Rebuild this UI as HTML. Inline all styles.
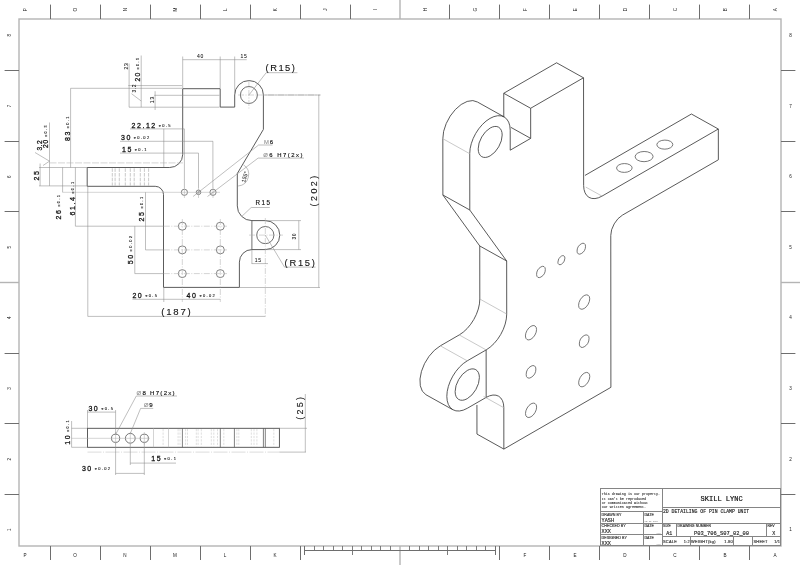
<!DOCTYPE html>
<html><head><meta charset="utf-8"><style>
html,body{margin:0;padding:0;background:#fff;}
svg{display:block;will-change:transform;}
</style></head><body>
<svg width="800" height="565" viewBox="0 0 800 565">
<rect width="800" height="565" fill="#fff"/>
<rect x="19" y="19" width="762" height="527" fill="none" stroke="#b4b4b4" stroke-width="1.4"/>
<line x1="50.5" y1="4.6" x2="50.5" y2="19.0" stroke="#6e6e6e" stroke-width="1.0" />
<line x1="50.5" y1="546.0" x2="50.5" y2="560.0" stroke="#6e6e6e" stroke-width="1.0" />
<line x1="100.5" y1="4.6" x2="100.5" y2="19.0" stroke="#6e6e6e" stroke-width="1.0" />
<line x1="100.5" y1="546.0" x2="100.5" y2="560.0" stroke="#6e6e6e" stroke-width="1.0" />
<line x1="150.5" y1="4.6" x2="150.5" y2="19.0" stroke="#6e6e6e" stroke-width="1.0" />
<line x1="150.5" y1="546.0" x2="150.5" y2="560.0" stroke="#6e6e6e" stroke-width="1.0" />
<line x1="200.5" y1="4.6" x2="200.5" y2="19.0" stroke="#6e6e6e" stroke-width="1.0" />
<line x1="200.5" y1="546.0" x2="200.5" y2="560.0" stroke="#6e6e6e" stroke-width="1.0" />
<line x1="250.5" y1="4.6" x2="250.5" y2="19.0" stroke="#6e6e6e" stroke-width="1.0" />
<line x1="250.5" y1="546.0" x2="250.5" y2="560.0" stroke="#6e6e6e" stroke-width="1.0" />
<line x1="300.5" y1="4.6" x2="300.5" y2="19.0" stroke="#6e6e6e" stroke-width="1.0" />
<line x1="300.5" y1="546.0" x2="300.5" y2="560.0" stroke="#6e6e6e" stroke-width="1.0" />
<line x1="350.5" y1="4.6" x2="350.5" y2="19.0" stroke="#6e6e6e" stroke-width="1.0" />
<line x1="400.0" y1="0.0" x2="400.0" y2="19.0" stroke="#b4b4b4" stroke-width="1.4" />
<line x1="400.0" y1="546.0" x2="400.0" y2="565.0" stroke="#b4b4b4" stroke-width="1.4" />
<line x1="449.5" y1="4.6" x2="449.5" y2="19.0" stroke="#6e6e6e" stroke-width="1.0" />
<line x1="499.5" y1="4.6" x2="499.5" y2="19.0" stroke="#6e6e6e" stroke-width="1.0" />
<line x1="499.5" y1="546.0" x2="499.5" y2="560.0" stroke="#6e6e6e" stroke-width="1.0" />
<line x1="549.5" y1="4.6" x2="549.5" y2="19.0" stroke="#6e6e6e" stroke-width="1.0" />
<line x1="549.5" y1="546.0" x2="549.5" y2="560.0" stroke="#6e6e6e" stroke-width="1.0" />
<line x1="599.5" y1="4.6" x2="599.5" y2="19.0" stroke="#6e6e6e" stroke-width="1.0" />
<line x1="599.5" y1="546.0" x2="599.5" y2="560.0" stroke="#6e6e6e" stroke-width="1.0" />
<line x1="649.5" y1="4.6" x2="649.5" y2="19.0" stroke="#6e6e6e" stroke-width="1.0" />
<line x1="649.5" y1="546.0" x2="649.5" y2="560.0" stroke="#6e6e6e" stroke-width="1.0" />
<line x1="699.5" y1="4.6" x2="699.5" y2="19.0" stroke="#6e6e6e" stroke-width="1.0" />
<line x1="699.5" y1="546.0" x2="699.5" y2="560.0" stroke="#6e6e6e" stroke-width="1.0" />
<line x1="749.5" y1="4.6" x2="749.5" y2="19.0" stroke="#6e6e6e" stroke-width="1.0" />
<line x1="749.5" y1="546.0" x2="749.5" y2="560.0" stroke="#6e6e6e" stroke-width="1.0" />
<line x1="4.6" y1="70.5" x2="19.0" y2="70.5" stroke="#6e6e6e" stroke-width="1.0" />
<line x1="781.0" y1="70.5" x2="795.4" y2="70.5" stroke="#6e6e6e" stroke-width="1.0" />
<line x1="4.6" y1="141.5" x2="19.0" y2="141.5" stroke="#6e6e6e" stroke-width="1.0" />
<line x1="781.0" y1="141.5" x2="795.4" y2="141.5" stroke="#6e6e6e" stroke-width="1.0" />
<line x1="4.6" y1="211.5" x2="19.0" y2="211.5" stroke="#6e6e6e" stroke-width="1.0" />
<line x1="781.0" y1="211.5" x2="795.4" y2="211.5" stroke="#6e6e6e" stroke-width="1.0" />
<line x1="0.0" y1="282.5" x2="19.0" y2="282.5" stroke="#b4b4b4" stroke-width="1.4" />
<line x1="781.0" y1="282.5" x2="800.0" y2="282.5" stroke="#b4b4b4" stroke-width="1.4" />
<line x1="4.6" y1="353.5" x2="19.0" y2="353.5" stroke="#6e6e6e" stroke-width="1.0" />
<line x1="781.0" y1="353.5" x2="795.4" y2="353.5" stroke="#6e6e6e" stroke-width="1.0" />
<line x1="4.6" y1="423.5" x2="19.0" y2="423.5" stroke="#6e6e6e" stroke-width="1.0" />
<line x1="781.0" y1="423.5" x2="795.4" y2="423.5" stroke="#6e6e6e" stroke-width="1.0" />
<line x1="4.6" y1="494.5" x2="19.0" y2="494.5" stroke="#6e6e6e" stroke-width="1.0" />
<line x1="781.0" y1="494.5" x2="795.4" y2="494.5" stroke="#6e6e6e" stroke-width="1.0" />
<text x="26.6" y="9.6" font-family="Liberation Sans" font-size="4.6" fill="#222" text-anchor="middle" font-weight="normal" letter-spacing="0" transform="rotate(-90 26.6 9.6)" >P</text>
<text x="25.0" y="557.4" font-family="Liberation Sans" font-size="4.6" fill="#222" text-anchor="middle" font-weight="normal" letter-spacing="0" >P</text>
<text x="76.6" y="9.6" font-family="Liberation Sans" font-size="4.6" fill="#222" text-anchor="middle" font-weight="normal" letter-spacing="0" transform="rotate(-90 76.6 9.6)" >O</text>
<text x="75.0" y="557.4" font-family="Liberation Sans" font-size="4.6" fill="#222" text-anchor="middle" font-weight="normal" letter-spacing="0" >O</text>
<text x="126.6" y="9.6" font-family="Liberation Sans" font-size="4.6" fill="#222" text-anchor="middle" font-weight="normal" letter-spacing="0" transform="rotate(-90 126.6 9.6)" >N</text>
<text x="125.0" y="557.4" font-family="Liberation Sans" font-size="4.6" fill="#222" text-anchor="middle" font-weight="normal" letter-spacing="0" >N</text>
<text x="176.6" y="9.6" font-family="Liberation Sans" font-size="4.6" fill="#222" text-anchor="middle" font-weight="normal" letter-spacing="0" transform="rotate(-90 176.6 9.6)" >M</text>
<text x="175.0" y="557.4" font-family="Liberation Sans" font-size="4.6" fill="#222" text-anchor="middle" font-weight="normal" letter-spacing="0" >M</text>
<text x="226.6" y="9.6" font-family="Liberation Sans" font-size="4.6" fill="#222" text-anchor="middle" font-weight="normal" letter-spacing="0" transform="rotate(-90 226.6 9.6)" >L</text>
<text x="225.0" y="557.4" font-family="Liberation Sans" font-size="4.6" fill="#222" text-anchor="middle" font-weight="normal" letter-spacing="0" >L</text>
<text x="276.6" y="9.6" font-family="Liberation Sans" font-size="4.6" fill="#222" text-anchor="middle" font-weight="normal" letter-spacing="0" transform="rotate(-90 276.6 9.6)" >K</text>
<text x="275.0" y="557.4" font-family="Liberation Sans" font-size="4.6" fill="#222" text-anchor="middle" font-weight="normal" letter-spacing="0" >K</text>
<text x="326.6" y="9.6" font-family="Liberation Sans" font-size="4.6" fill="#222" text-anchor="middle" font-weight="normal" letter-spacing="0" transform="rotate(-90 326.6 9.6)" >J</text>
<text x="376.6" y="9.6" font-family="Liberation Sans" font-size="4.6" fill="#222" text-anchor="middle" font-weight="normal" letter-spacing="0" transform="rotate(-90 376.6 9.6)" >I</text>
<text x="426.6" y="9.6" font-family="Liberation Sans" font-size="4.6" fill="#222" text-anchor="middle" font-weight="normal" letter-spacing="0" transform="rotate(-90 426.6 9.6)" >H</text>
<text x="476.6" y="9.6" font-family="Liberation Sans" font-size="4.6" fill="#222" text-anchor="middle" font-weight="normal" letter-spacing="0" transform="rotate(-90 476.6 9.6)" >G</text>
<text x="526.6" y="9.6" font-family="Liberation Sans" font-size="4.6" fill="#222" text-anchor="middle" font-weight="normal" letter-spacing="0" transform="rotate(-90 526.6 9.6)" >F</text>
<text x="525.0" y="557.4" font-family="Liberation Sans" font-size="4.6" fill="#222" text-anchor="middle" font-weight="normal" letter-spacing="0" >F</text>
<text x="576.6" y="9.6" font-family="Liberation Sans" font-size="4.6" fill="#222" text-anchor="middle" font-weight="normal" letter-spacing="0" transform="rotate(-90 576.6 9.6)" >E</text>
<text x="575.0" y="557.4" font-family="Liberation Sans" font-size="4.6" fill="#222" text-anchor="middle" font-weight="normal" letter-spacing="0" >E</text>
<text x="626.6" y="9.6" font-family="Liberation Sans" font-size="4.6" fill="#222" text-anchor="middle" font-weight="normal" letter-spacing="0" transform="rotate(-90 626.6 9.6)" >D</text>
<text x="625.0" y="557.4" font-family="Liberation Sans" font-size="4.6" fill="#222" text-anchor="middle" font-weight="normal" letter-spacing="0" >D</text>
<text x="676.6" y="9.6" font-family="Liberation Sans" font-size="4.6" fill="#222" text-anchor="middle" font-weight="normal" letter-spacing="0" transform="rotate(-90 676.6 9.6)" >C</text>
<text x="675.0" y="557.4" font-family="Liberation Sans" font-size="4.6" fill="#222" text-anchor="middle" font-weight="normal" letter-spacing="0" >C</text>
<text x="726.6" y="9.6" font-family="Liberation Sans" font-size="4.6" fill="#222" text-anchor="middle" font-weight="normal" letter-spacing="0" transform="rotate(-90 726.6 9.6)" >B</text>
<text x="725.0" y="557.4" font-family="Liberation Sans" font-size="4.6" fill="#222" text-anchor="middle" font-weight="normal" letter-spacing="0" >B</text>
<text x="776.6" y="9.6" font-family="Liberation Sans" font-size="4.6" fill="#222" text-anchor="middle" font-weight="normal" letter-spacing="0" transform="rotate(-90 776.6 9.6)" >A</text>
<text x="775.0" y="557.4" font-family="Liberation Sans" font-size="4.6" fill="#222" text-anchor="middle" font-weight="normal" letter-spacing="0" >A</text>
<text x="11.2" y="35.3" font-family="Liberation Sans" font-size="4.6" fill="#222" text-anchor="middle" font-weight="normal" letter-spacing="0" transform="rotate(-90 11.2 35.3)" >8</text>
<text x="790.6" y="36.9" font-family="Liberation Sans" font-size="4.6" fill="#222" text-anchor="middle" font-weight="normal" letter-spacing="0" >8</text>
<text x="11.2" y="105.9" font-family="Liberation Sans" font-size="4.6" fill="#222" text-anchor="middle" font-weight="normal" letter-spacing="0" transform="rotate(-90 11.2 105.9)" >7</text>
<text x="790.6" y="107.5" font-family="Liberation Sans" font-size="4.6" fill="#222" text-anchor="middle" font-weight="normal" letter-spacing="0" >7</text>
<text x="11.2" y="176.6" font-family="Liberation Sans" font-size="4.6" fill="#222" text-anchor="middle" font-weight="normal" letter-spacing="0" transform="rotate(-90 11.2 176.6)" >6</text>
<text x="790.6" y="178.2" font-family="Liberation Sans" font-size="4.6" fill="#222" text-anchor="middle" font-weight="normal" letter-spacing="0" >6</text>
<text x="11.2" y="247.2" font-family="Liberation Sans" font-size="4.6" fill="#222" text-anchor="middle" font-weight="normal" letter-spacing="0" transform="rotate(-90 11.2 247.2)" >5</text>
<text x="790.6" y="248.8" font-family="Liberation Sans" font-size="4.6" fill="#222" text-anchor="middle" font-weight="normal" letter-spacing="0" >5</text>
<text x="11.2" y="317.8" font-family="Liberation Sans" font-size="4.6" fill="#222" text-anchor="middle" font-weight="normal" letter-spacing="0" transform="rotate(-90 11.2 317.8)" >4</text>
<text x="790.6" y="319.4" font-family="Liberation Sans" font-size="4.6" fill="#222" text-anchor="middle" font-weight="normal" letter-spacing="0" >4</text>
<text x="11.2" y="388.4" font-family="Liberation Sans" font-size="4.6" fill="#222" text-anchor="middle" font-weight="normal" letter-spacing="0" transform="rotate(-90 11.2 388.4)" >3</text>
<text x="790.6" y="390.0" font-family="Liberation Sans" font-size="4.6" fill="#222" text-anchor="middle" font-weight="normal" letter-spacing="0" >3</text>
<text x="11.2" y="459.1" font-family="Liberation Sans" font-size="4.6" fill="#222" text-anchor="middle" font-weight="normal" letter-spacing="0" transform="rotate(-90 11.2 459.1)" >2</text>
<text x="790.6" y="460.7" font-family="Liberation Sans" font-size="4.6" fill="#222" text-anchor="middle" font-weight="normal" letter-spacing="0" >2</text>
<text x="11.2" y="529.7" font-family="Liberation Sans" font-size="4.6" fill="#222" text-anchor="middle" font-weight="normal" letter-spacing="0" transform="rotate(-90 11.2 529.7)" >1</text>
<text x="790.6" y="531.3" font-family="Liberation Sans" font-size="4.6" fill="#222" text-anchor="middle" font-weight="normal" letter-spacing="0" >1</text>
<line x1="304.5" y1="546.0" x2="304.5" y2="555.0" stroke="#6e6e6e" stroke-width="1.0" />
<line x1="495.5" y1="546.0" x2="495.5" y2="555.0" stroke="#6e6e6e" stroke-width="1.0" />
<line x1="304.5" y1="550.5" x2="495.5" y2="550.5" stroke="#6e6e6e" stroke-width="1.0" />
<line x1="314.5" y1="546.0" x2="314.5" y2="550.5" stroke="#6e6e6e" stroke-width="0.9" />
<line x1="323.5" y1="546.0" x2="323.5" y2="550.5" stroke="#6e6e6e" stroke-width="0.9" />
<line x1="333.5" y1="546.0" x2="333.5" y2="550.5" stroke="#6e6e6e" stroke-width="0.9" />
<line x1="342.5" y1="546.0" x2="342.5" y2="550.5" stroke="#6e6e6e" stroke-width="0.9" />
<line x1="352.5" y1="546.0" x2="352.5" y2="555.0" stroke="#6e6e6e" stroke-width="0.9" />
<line x1="361.5" y1="546.0" x2="361.5" y2="550.5" stroke="#6e6e6e" stroke-width="0.9" />
<line x1="371.5" y1="546.0" x2="371.5" y2="550.5" stroke="#6e6e6e" stroke-width="0.9" />
<line x1="380.5" y1="546.0" x2="380.5" y2="550.5" stroke="#6e6e6e" stroke-width="0.9" />
<line x1="390.5" y1="546.0" x2="390.5" y2="550.5" stroke="#6e6e6e" stroke-width="0.9" />
<line x1="409.5" y1="546.0" x2="409.5" y2="550.5" stroke="#6e6e6e" stroke-width="0.9" />
<line x1="419.5" y1="546.0" x2="419.5" y2="550.5" stroke="#6e6e6e" stroke-width="0.9" />
<line x1="428.5" y1="546.0" x2="428.5" y2="550.5" stroke="#6e6e6e" stroke-width="0.9" />
<line x1="438.5" y1="546.0" x2="438.5" y2="550.5" stroke="#6e6e6e" stroke-width="0.9" />
<line x1="447.5" y1="546.0" x2="447.5" y2="555.0" stroke="#6e6e6e" stroke-width="0.9" />
<line x1="457.5" y1="546.0" x2="457.5" y2="550.5" stroke="#6e6e6e" stroke-width="0.9" />
<line x1="466.5" y1="546.0" x2="466.5" y2="550.5" stroke="#6e6e6e" stroke-width="0.9" />
<line x1="476.5" y1="546.0" x2="476.5" y2="550.5" stroke="#6e6e6e" stroke-width="0.9" />
<line x1="485.5" y1="546.0" x2="485.5" y2="550.5" stroke="#6e6e6e" stroke-width="0.9" />
<rect x="600.5" y="488.5" width="180.0" height="57.0" fill="none" stroke="#858585" stroke-width="1.0"/>
<line x1="662.5" y1="488.5" x2="662.5" y2="545.5" stroke="#858585" stroke-width="1.0" />
<line x1="600.5" y1="511.5" x2="662.5" y2="511.5" stroke="#858585" stroke-width="1.0" />
<line x1="600.5" y1="523.5" x2="662.5" y2="523.5" stroke="#858585" stroke-width="1.0" />
<line x1="600.5" y1="534.5" x2="662.5" y2="534.5" stroke="#858585" stroke-width="1.0" />
<line x1="643.5" y1="511.5" x2="643.5" y2="545.5" stroke="#858585" stroke-width="1.0" />
<line x1="662.5" y1="507.5" x2="780.5" y2="507.5" stroke="#858585" stroke-width="1.0" />
<line x1="662.5" y1="523.5" x2="780.5" y2="523.5" stroke="#858585" stroke-width="1.0" />
<line x1="662.5" y1="536.5" x2="780.5" y2="536.5" stroke="#858585" stroke-width="1.0" />
<line x1="676.5" y1="523.5" x2="676.5" y2="536.5" stroke="#858585" stroke-width="1.0" />
<line x1="766.5" y1="523.5" x2="766.5" y2="536.5" stroke="#858585" stroke-width="1.0" />
<line x1="690.5" y1="536.5" x2="690.5" y2="545.5" stroke="#858585" stroke-width="1.0" />
<line x1="733.5" y1="536.5" x2="733.5" y2="545.5" stroke="#858585" stroke-width="1.0" />
<line x1="752.5" y1="536.5" x2="752.5" y2="545.5" stroke="#858585" stroke-width="1.0" />
<text x="601.8" y="495.4" font-family="Liberation Mono" font-size="3.35" fill="#333" text-anchor="start" font-weight="normal" letter-spacing="0" stroke="#333" stroke-width="0.1">This drawing is our property.</text>
<text x="601.8" y="499.5" font-family="Liberation Mono" font-size="3.35" fill="#333" text-anchor="start" font-weight="normal" letter-spacing="0" stroke="#333" stroke-width="0.1">It can't be reproduced</text>
<text x="601.8" y="503.6" font-family="Liberation Mono" font-size="3.35" fill="#333" text-anchor="start" font-weight="normal" letter-spacing="0" stroke="#333" stroke-width="0.1">or communicated without</text>
<text x="601.8" y="507.8" font-family="Liberation Mono" font-size="3.35" fill="#333" text-anchor="start" font-weight="normal" letter-spacing="0" stroke="#333" stroke-width="0.1">our written agreement.</text>
<text x="601.6" y="515.7" font-family="Liberation Sans" font-size="3.65" fill="#333" text-anchor="start" font-weight="normal" letter-spacing="0.05" stroke="#333" stroke-width="0.15">DRAWN BY</text>
<text x="601.6" y="521.9" font-family="Liberation Mono" font-size="5.2" fill="#222" text-anchor="start" font-weight="normal" letter-spacing="0" stroke="#333" stroke-width="0.15">YASH</text>
<text x="644.4" y="515.7" font-family="Liberation Sans" font-size="3.65" fill="#333" text-anchor="start" font-weight="normal" letter-spacing="0.05" stroke="#333" stroke-width="0.15">DATE</text>
<text x="644.6" y="522.3" font-family="Liberation Mono" font-size="2.3" fill="#555" text-anchor="start" font-weight="normal" letter-spacing="0" >28-06-2021</text>
<text x="601.6" y="527.0" font-family="Liberation Sans" font-size="3.65" fill="#333" text-anchor="start" font-weight="normal" letter-spacing="0.05" stroke="#333" stroke-width="0.15">CHECKED BY</text>
<text x="601.6" y="533.0" font-family="Liberation Mono" font-size="5.2" fill="#222" text-anchor="start" font-weight="normal" letter-spacing="0" stroke="#333" stroke-width="0.15">XXX</text>
<text x="644.4" y="527.0" font-family="Liberation Sans" font-size="3.65" fill="#333" text-anchor="start" font-weight="normal" letter-spacing="0.05" stroke="#333" stroke-width="0.15">DATE</text>
<text x="656.5" y="533.8" font-family="Liberation Mono" font-size="2.3" fill="#555" text-anchor="start" font-weight="normal" letter-spacing="0" >XXX</text>
<text x="601.6" y="538.7" font-family="Liberation Sans" font-size="3.65" fill="#333" text-anchor="start" font-weight="normal" letter-spacing="0.05" stroke="#333" stroke-width="0.15">DESIGNED BY</text>
<text x="601.6" y="544.6" font-family="Liberation Mono" font-size="5.2" fill="#222" text-anchor="start" font-weight="normal" letter-spacing="0" stroke="#333" stroke-width="0.15">XXX</text>
<text x="644.4" y="538.7" font-family="Liberation Sans" font-size="3.65" fill="#333" text-anchor="start" font-weight="normal" letter-spacing="0.05" stroke="#333" stroke-width="0.15">DATE</text>
<text x="656.5" y="545.0" font-family="Liberation Mono" font-size="2.3" fill="#555" text-anchor="start" font-weight="normal" letter-spacing="0" >XXX</text>
<text x="721.6" y="500.6" font-family="Liberation Mono" font-size="7.0" fill="#111" text-anchor="middle" font-weight="normal" letter-spacing="0" stroke="#111" stroke-width="0.2">SKILL LYNC</text>
<text x="662.9" y="512.8" font-family="Liberation Mono" font-size="4.8" fill="#222" text-anchor="start" font-weight="normal" letter-spacing="0" stroke="#333" stroke-width="0.15">2D DETAILING OF PIN CLAMP UNIT</text>
<text x="663.0" y="527.0" font-family="Liberation Sans" font-size="3.5" fill="#333" text-anchor="start" font-weight="normal" letter-spacing="0.05" stroke="#333" stroke-width="0.15">SIZE</text>
<text x="669.3" y="534.6" font-family="Liberation Mono" font-size="5.0" fill="#222" text-anchor="middle" font-weight="normal" letter-spacing="0" stroke="#333" stroke-width="0.15">A1</text>
<text x="677.5" y="527.0" font-family="Liberation Sans" font-size="3.5" fill="#333" text-anchor="start" font-weight="normal" letter-spacing="0.05" stroke="#333" stroke-width="0.15">DRAWING NUMBER</text>
<text x="721.6" y="534.6" font-family="Liberation Mono" font-size="5.4" fill="#222" text-anchor="middle" font-weight="normal" letter-spacing="0" stroke="#333" stroke-width="0.15">P03_706_S07_02_00</text>
<text x="767.4" y="527.0" font-family="Liberation Sans" font-size="3.5" fill="#333" text-anchor="start" font-weight="normal" letter-spacing="0.05" stroke="#333" stroke-width="0.15">REV</text>
<text x="773.7" y="534.6" font-family="Liberation Mono" font-size="5.0" fill="#222" text-anchor="middle" font-weight="normal" letter-spacing="0" stroke="#333" stroke-width="0.15">X</text>
<text x="663.0" y="542.8" font-family="Liberation Sans" font-size="3.9" fill="#333" text-anchor="start" font-weight="normal" letter-spacing="0.25" stroke="#333" stroke-width="0.15">SCALE</text>
<text x="690.0" y="542.8" font-family="Liberation Sans" font-size="3.9" fill="#333" text-anchor="end" font-weight="normal" letter-spacing="0.25" stroke="#333" stroke-width="0.15">1:2</text>
<text x="691.0" y="542.8" font-family="Liberation Sans" font-size="3.9" fill="#333" text-anchor="start" font-weight="normal" letter-spacing="0.25" stroke="#333" stroke-width="0.15">WEIGHT(kg)</text>
<text x="732.8" y="542.8" font-family="Liberation Sans" font-size="3.9" fill="#333" text-anchor="end" font-weight="normal" letter-spacing="0.25" stroke="#333" stroke-width="0.15">1.80</text>
<text x="753.5" y="542.8" font-family="Liberation Sans" font-size="3.9" fill="#333" text-anchor="start" font-weight="normal" letter-spacing="0.25" stroke="#333" stroke-width="0.15">SHEET</text>
<text x="780.3" y="542.8" font-family="Liberation Sans" font-size="3.9" fill="#333" text-anchor="end" font-weight="normal" letter-spacing="0.25" stroke="#333" stroke-width="0.15">1/1</text>
<path d="M182.7,88.7 L220.2,88.7 L220.2,107.1 L234.7,107.1 L234.7,94.9 A14.35,14.35 0 0 1 263.4,94.9 L263.4,129.4 L237.3,173.5 L237.3,205.9 A14.6,14.6 0 0 0 251.9,220.6 L265.3,220.6 A14.5,14.5 0 0 1 265.3,249.6 L251.9,249.6 A12.5,12.5 0 0 0 239.4,262.1 L239.4,287.4 L163.5,287.4 L163.5,194.6 A8.3,8.3 0 0 0 155.2,186.3 L87.2,186.3 L87.2,167.5 L169.7,167.5 A13,13 0 0 0 182.7,154.5 Z" fill="none" stroke="#4a4a4a" stroke-width="0.9" />
<circle cx="248.9" cy="95.0" r="8.5" fill="none" stroke="#4a4a4a" stroke-width="0.8"/>
<circle cx="265.3" cy="235.1" r="8.6" fill="none" stroke="#4a4a4a" stroke-width="0.8"/>
<line x1="251.9" y1="220.6" x2="251.9" y2="249.6" stroke="#4a4a4a" stroke-width="0.8" />
<circle cx="184.4" cy="192.3" r="3.1" fill="none" stroke="#666" stroke-width="0.8"/>
<circle cx="198.5" cy="192.3" r="2.3" fill="none" stroke="#666" stroke-width="0.8"/>
<circle cx="198.5" cy="192.3" r="0.9" fill="none" stroke="#888" stroke-width="0.5"/>
<circle cx="213.0" cy="192.3" r="3.1" fill="none" stroke="#666" stroke-width="0.8"/>
<circle cx="182.3" cy="226.2" r="4.0" fill="none" stroke="#666" stroke-width="0.8"/>
<circle cx="182.3" cy="249.9" r="4.0" fill="none" stroke="#666" stroke-width="0.8"/>
<circle cx="182.3" cy="273.6" r="4.0" fill="none" stroke="#666" stroke-width="0.8"/>
<circle cx="220.3" cy="226.2" r="4.0" fill="none" stroke="#666" stroke-width="0.8"/>
<circle cx="220.3" cy="249.9" r="4.0" fill="none" stroke="#666" stroke-width="0.8"/>
<circle cx="220.3" cy="273.6" r="4.0" fill="none" stroke="#666" stroke-width="0.8"/>
<line x1="112.3" y1="168.3" x2="112.3" y2="185.6" stroke="#9c9c9c" stroke-width="0.55" stroke-dasharray="3.6 1.1"/>
<line x1="115.1" y1="168.3" x2="115.1" y2="185.6" stroke="#9c9c9c" stroke-width="0.55" stroke-dasharray="3.6 1.1"/>
<line x1="119.3" y1="168.3" x2="119.3" y2="185.6" stroke="#9c9c9c" stroke-width="0.55" stroke-dasharray="3.6 1.1"/>
<line x1="125.3" y1="168.3" x2="125.3" y2="185.6" stroke="#9c9c9c" stroke-width="0.55" stroke-dasharray="3.6 1.1"/>
<line x1="130.3" y1="168.3" x2="130.3" y2="185.6" stroke="#9c9c9c" stroke-width="0.55" stroke-dasharray="3.6 1.1"/>
<line x1="134.2" y1="168.3" x2="134.2" y2="185.6" stroke="#9c9c9c" stroke-width="0.55" stroke-dasharray="3.6 1.1"/>
<line x1="140.3" y1="168.3" x2="140.3" y2="185.6" stroke="#9c9c9c" stroke-width="0.55" stroke-dasharray="3.6 1.1"/>
<line x1="144.4" y1="168.3" x2="144.4" y2="185.6" stroke="#9c9c9c" stroke-width="0.55" stroke-dasharray="3.6 1.1"/>
<line x1="148.6" y1="168.3" x2="148.6" y2="185.6" stroke="#9c9c9c" stroke-width="0.55" stroke-dasharray="3.6 1.1"/>
<line x1="238.0" y1="95.0" x2="321.0" y2="95.0" stroke="#a8a8a8" stroke-width="0.5" stroke-dasharray="6 1.5 1 1.5"/>
<line x1="248.9" y1="80.0" x2="248.9" y2="110.0" stroke="#a8a8a8" stroke-width="0.5" stroke-dasharray="6 1.5 1 1.5"/>
<line x1="249.0" y1="235.1" x2="283.0" y2="235.1" stroke="#a8a8a8" stroke-width="0.5" stroke-dasharray="6 1.5 1 1.5"/>
<line x1="265.3" y1="218.0" x2="265.3" y2="316.5" stroke="#a8a8a8" stroke-width="0.5" stroke-dasharray="6 1.5 1 1.5"/>
<line x1="62.6" y1="192.3" x2="220.0" y2="192.3" stroke="#a8a8a8" stroke-width="0.5" />
<line x1="184.4" y1="187.0" x2="184.4" y2="198.0" stroke="#a8a8a8" stroke-width="0.5" />
<line x1="198.5" y1="187.0" x2="198.5" y2="198.0" stroke="#a8a8a8" stroke-width="0.5" />
<line x1="213.0" y1="187.0" x2="213.0" y2="198.0" stroke="#a8a8a8" stroke-width="0.5" />
<line x1="163.8" y1="226.2" x2="227.0" y2="226.2" stroke="#a8a8a8" stroke-width="0.5" stroke-dasharray="6 1.5 1 1.5"/>
<line x1="163.8" y1="249.9" x2="227.0" y2="249.9" stroke="#a8a8a8" stroke-width="0.5" stroke-dasharray="6 1.5 1 1.5"/>
<line x1="163.8" y1="273.6" x2="227.0" y2="273.6" stroke="#a8a8a8" stroke-width="0.5" stroke-dasharray="6 1.5 1 1.5"/>
<line x1="75.4" y1="226.2" x2="163.8" y2="226.2" stroke="#8a8a8a" stroke-width="0.55" />
<line x1="145.5" y1="249.9" x2="163.8" y2="249.9" stroke="#8a8a8a" stroke-width="0.55" />
<line x1="134.8" y1="273.6" x2="163.8" y2="273.6" stroke="#8a8a8a" stroke-width="0.55" />
<line x1="182.3" y1="219.0" x2="182.3" y2="302.0" stroke="#a8a8a8" stroke-width="0.5" stroke-dasharray="6 1.5 1 1.5"/>
<line x1="220.3" y1="219.0" x2="220.3" y2="302.0" stroke="#a8a8a8" stroke-width="0.5" stroke-dasharray="6 1.5 1 1.5"/>
<line x1="182.7" y1="59.7" x2="246.7" y2="59.7" stroke="#8a8a8a" stroke-width="0.55" />
<line x1="182.7" y1="56.5" x2="182.7" y2="88.0" stroke="#8a8a8a" stroke-width="0.55" />
<line x1="220.2" y1="56.5" x2="220.2" y2="88.0" stroke="#8a8a8a" stroke-width="0.55" />
<line x1="234.7" y1="56.5" x2="234.7" y2="93.0" stroke="#8a8a8a" stroke-width="0.55" />
<line x1="70.6" y1="88.3" x2="182.0" y2="88.3" stroke="#8a8a8a" stroke-width="0.55" />
<line x1="128.2" y1="85.6" x2="182.0" y2="85.6" stroke="#8a8a8a" stroke-width="0.55" />
<line x1="154.2" y1="95.3" x2="219.5" y2="95.3" stroke="#8a8a8a" stroke-width="0.55" />
<line x1="129.0" y1="107.2" x2="219.5" y2="107.2" stroke="#8a8a8a" stroke-width="0.55" />
<line x1="129.1" y1="63.5" x2="129.1" y2="107.2" stroke="#8a8a8a" stroke-width="0.55" />
<line x1="141.2" y1="55.5" x2="141.2" y2="107.2" stroke="#8a8a8a" stroke-width="0.55" />
<line x1="155.1" y1="91.2" x2="155.1" y2="110.0" stroke="#8a8a8a" stroke-width="0.55" />
<line x1="131.5" y1="93.7" x2="141.2" y2="101.0" stroke="#8a8a8a" stroke-width="0.55" />
<line x1="70.6" y1="88.3" x2="70.6" y2="167.5" stroke="#8a8a8a" stroke-width="0.55" />
<line x1="43.0" y1="165.5" x2="49.5" y2="161.2" stroke="#8a8a8a" stroke-width="0.55" />
<line x1="35.0" y1="152.5" x2="49.5" y2="161.2" stroke="#8a8a8a" stroke-width="0.55" />
<line x1="49.5" y1="122.5" x2="49.5" y2="185.9" stroke="#8a8a8a" stroke-width="0.55" />
<line x1="40.1" y1="163.5" x2="40.1" y2="185.9" stroke="#8a8a8a" stroke-width="0.55" />
<line x1="39.0" y1="167.5" x2="87.0" y2="167.5" stroke="#8a8a8a" stroke-width="0.55" />
<line x1="39.0" y1="185.9" x2="87.0" y2="185.9" stroke="#8a8a8a" stroke-width="0.55" />
<line x1="62.6" y1="167.5" x2="62.6" y2="192.3" stroke="#8a8a8a" stroke-width="0.55" />
<line x1="75.4" y1="167.5" x2="75.4" y2="226.2" stroke="#8a8a8a" stroke-width="0.55" />
<line x1="87.8" y1="186.0" x2="87.8" y2="316.4" stroke="#8a8a8a" stroke-width="0.55" />
<line x1="87.8" y1="316.4" x2="265.3" y2="316.4" stroke="#8a8a8a" stroke-width="0.55" />
<line x1="145.5" y1="192.3" x2="145.5" y2="249.9" stroke="#8a8a8a" stroke-width="0.55" />
<line x1="134.8" y1="226.2" x2="134.8" y2="273.6" stroke="#8a8a8a" stroke-width="0.55" />
<line x1="130.0" y1="128.9" x2="184.4" y2="128.9" stroke="#8a8a8a" stroke-width="0.55" />
<line x1="120.0" y1="141.3" x2="213.0" y2="141.3" stroke="#8a8a8a" stroke-width="0.55" />
<line x1="120.0" y1="153.1" x2="198.5" y2="153.1" stroke="#8a8a8a" stroke-width="0.55" />
<line x1="184.4" y1="128.9" x2="184.4" y2="187.5" stroke="#8a8a8a" stroke-width="0.55" />
<line x1="198.5" y1="153.1" x2="198.5" y2="187.5" stroke="#8a8a8a" stroke-width="0.55" />
<line x1="212.9" y1="141.3" x2="212.9" y2="187.5" stroke="#8a8a8a" stroke-width="0.55" />
<line x1="163.8" y1="128.9" x2="163.8" y2="167.0" stroke="#8a8a8a" stroke-width="0.55" />
<line x1="132.4" y1="299.3" x2="220.3" y2="299.3" stroke="#8a8a8a" stroke-width="0.55" />
<line x1="163.8" y1="288.0" x2="163.8" y2="302.0" stroke="#8a8a8a" stroke-width="0.55" />
<line x1="263.4" y1="95.0" x2="320.0" y2="95.0" stroke="#8a8a8a" stroke-width="0.55" />
<line x1="318.8" y1="95.0" x2="318.8" y2="287.5" stroke="#8a8a8a" stroke-width="0.55" />
<line x1="239.4" y1="287.5" x2="320.0" y2="287.5" stroke="#8a8a8a" stroke-width="0.55" />
<line x1="265.0" y1="220.6" x2="301.0" y2="220.6" stroke="#8a8a8a" stroke-width="0.55" />
<line x1="265.0" y1="249.6" x2="301.0" y2="249.6" stroke="#8a8a8a" stroke-width="0.55" />
<line x1="298.8" y1="220.6" x2="298.8" y2="249.6" stroke="#8a8a8a" stroke-width="0.55" />
<line x1="251.9" y1="249.6" x2="251.9" y2="264.0" stroke="#8a8a8a" stroke-width="0.55" />
<line x1="251.9" y1="263.6" x2="268.0" y2="263.6" stroke="#8a8a8a" stroke-width="0.55" />
<line x1="49.5" y1="162.9" x2="183.0" y2="162.9" stroke="#aaaaaa" stroke-width="0.5" stroke-dasharray="7 1.5"/>
<path d="M249.2,94.7 L266.2,72.7 L297.4,72.7" fill="none" stroke="#8a8a8a" stroke-width="0.55" />
<path d="M242.0,216.2 L251.2,207.5 L269.8,207.5" fill="none" stroke="#8a8a8a" stroke-width="0.55" />
<path d="M265.3,235.1 L284.5,267.1 L315.6,267.1" fill="none" stroke="#8a8a8a" stroke-width="0.55" />
<path d="M193.1,196.5 L258.6,145.0 L272.5,145.0" fill="none" stroke="#8a8a8a" stroke-width="0.55" />
<path d="M207.5,196.5 L258.1,158.1 L304.0,158.1" fill="none" stroke="#8a8a8a" stroke-width="0.55" />
<path d="M243.5,164.8 A11.6,11.6 0 0 1 238.1,186.0" fill="none" stroke="#8a8a8a" stroke-width="0.55" />
<text x="131.5" y="128.0" font-family="Liberation Sans" font-size="7" fill="#111" stroke="#111" stroke-width="0.28" letter-spacing="1.55" font-weight="normal">22.12<tspan font-size="4.0" letter-spacing="1.35" stroke-width="0.1" dx="1.9" dy="-1.0">±0.5</tspan></text>
<text x="121.0" y="139.7" font-family="Liberation Sans" font-size="7" fill="#111" stroke="#111" stroke-width="0.28" letter-spacing="1.55" font-weight="normal">30<tspan font-size="4.0" letter-spacing="1.35" stroke-width="0.1" dx="1.9" dy="-1.0">±0.02</tspan></text>
<text x="122.0" y="151.5" font-family="Liberation Sans" font-size="7" fill="#111" stroke="#111" stroke-width="0.28" letter-spacing="1.55" font-weight="normal">15<tspan font-size="4.0" letter-spacing="1.35" stroke-width="0.1" dx="1.9" dy="-1.0">±0.1</tspan></text>
<text x="132.4" y="297.6" font-family="Liberation Sans" font-size="7" fill="#111" stroke="#111" stroke-width="0.28" letter-spacing="1.55" font-weight="normal">20<tspan font-size="4.0" letter-spacing="1.35" stroke-width="0.1" dx="1.9" dy="-1.0">±0.5</tspan></text>
<text x="186.6" y="297.6" font-family="Liberation Sans" font-size="7" fill="#111" stroke="#111" stroke-width="0.28" letter-spacing="1.55" font-weight="normal">40<tspan font-size="4.0" letter-spacing="1.35" stroke-width="0.1" dx="1.9" dy="-1.0">±0.02</tspan></text>
<text x="197.0" y="58.3" font-family="Liberation Sans" font-size="5.0" fill="#111" stroke="#111" stroke-width="0.06" letter-spacing="0.7" font-weight="normal">40</text>
<text x="240.6" y="58.3" font-family="Liberation Sans" font-size="5.0" fill="#111" stroke="#111" stroke-width="0.06" letter-spacing="0.7" font-weight="normal">15</text>
<text x="265.6" y="71.0" font-family="Liberation Sans" font-size="9.4" fill="#111" stroke="#111" stroke-width="0.1" letter-spacing="1.45" font-weight="normal">(R15)</text>
<text x="284.6" y="265.6" font-family="Liberation Sans" font-size="9.4" fill="#111" stroke="#111" stroke-width="0.1" letter-spacing="1.7" font-weight="normal">(R15)</text>
<text x="161.2" y="314.7" font-family="Liberation Sans" font-size="9.6" fill="#111" stroke="#111" stroke-width="0.1" letter-spacing="1.8" font-weight="normal">(187)</text>
<text x="264.0" y="143.5" font-family="Liberation Sans" font-size="5.9" fill="#111" stroke="#111" stroke-width="0.15" letter-spacing="0.9" font-weight="normal"><tspan fill="#9a9a9a" stroke="#9a9a9a">M</tspan>6</text>
<text x="263.2" y="156.6" font-family="Liberation Sans" font-size="5.9" fill="#111" stroke="#111" stroke-width="0.15" letter-spacing="1.5" font-weight="normal"><tspan fill="#9a9a9a" stroke="#9a9a9a">Ø</tspan>6 H7(2x)</text>
<text x="255.6" y="205.2" font-family="Liberation Sans" font-size="6.3" fill="#111" stroke="#111" stroke-width="0.15" letter-spacing="1.45" font-weight="normal">R15</text>
<text x="254.8" y="261.6" font-family="Liberation Sans" font-size="5.0" fill="#111" stroke="#111" stroke-width="0.06" letter-spacing="0.7" font-weight="normal">15</text>
<text x="69.6" y="141.0" font-family="Liberation Sans" font-size="7" fill="#111" stroke="#111" stroke-width="0.28" letter-spacing="1.55" font-weight="normal" transform="rotate(-90 69.6 141.0)">83<tspan font-size="4.0" letter-spacing="1.35" stroke-width="0.1" dx="1.9" dy="-1.0">±0.1</tspan></text>
<text x="38.7" y="180.4" font-family="Liberation Sans" font-size="7" fill="#111" stroke="#111" stroke-width="0.28" letter-spacing="1.55" font-weight="normal" transform="rotate(-90 38.7 180.4)">25</text>
<text x="42.4" y="150.4" font-family="Liberation Sans" font-size="6.6" fill="#111" stroke="#111" stroke-width="0.28" letter-spacing="0.5" font-weight="normal" transform="rotate(-90 42.4 150.4)">3.2</text>
<text x="48.2" y="148.0" font-family="Liberation Sans" font-size="6.6" fill="#111" stroke="#111" stroke-width="0.28" letter-spacing="0.9" font-weight="normal" transform="rotate(-90 48.2 148.0)">20<tspan font-size="4.0" letter-spacing="1.35" stroke-width="0.1" dx="1.9" dy="-1.0">±0.5</tspan></text>
<text x="61.0" y="219.5" font-family="Liberation Sans" font-size="7" fill="#111" stroke="#111" stroke-width="0.28" letter-spacing="1.55" font-weight="normal" transform="rotate(-90 61.0 219.5)">26<tspan font-size="4.0" letter-spacing="1.35" stroke-width="0.1" dx="1.9" dy="-1.0">±0.1</tspan></text>
<text x="74.9" y="215.4" font-family="Liberation Sans" font-size="7" fill="#111" stroke="#111" stroke-width="0.28" letter-spacing="1.55" font-weight="normal" transform="rotate(-90 74.9 215.4)">61.4<tspan font-size="4.0" letter-spacing="1.35" stroke-width="0.1" dx="1.9" dy="-1.0">±0.1</tspan></text>
<text x="143.8" y="221.4" font-family="Liberation Sans" font-size="7" fill="#111" stroke="#111" stroke-width="0.28" letter-spacing="1.55" font-weight="normal" transform="rotate(-90 143.8 221.4)">25<tspan font-size="4.0" letter-spacing="1.35" stroke-width="0.1" dx="1.9" dy="-1.0">±0.1</tspan></text>
<text x="133.0" y="264.2" font-family="Liberation Sans" font-size="7" fill="#111" stroke="#111" stroke-width="0.28" letter-spacing="1.55" font-weight="normal" transform="rotate(-90 133.0 264.2)">50<tspan font-size="4.0" letter-spacing="1.35" stroke-width="0.1" dx="1.9" dy="-1.0">±0.02</tspan></text>
<text x="140.2" y="81.4" font-family="Liberation Sans" font-size="6.8" fill="#111" stroke="#111" stroke-width="0.28" letter-spacing="1.2" font-weight="normal" transform="rotate(-90 140.2 81.4)">20<tspan font-size="4.0" letter-spacing="1.35" stroke-width="0.1" dx="1.9" dy="-1.0">±0.5</tspan></text>
<text x="127.9" y="69.6" font-family="Liberation Sans" font-size="5.2" fill="#111" stroke="#111" stroke-width="0.06" letter-spacing="0.8" font-weight="normal" transform="rotate(-90 127.9 69.6)">23</text>
<text x="136.0" y="92.6" font-family="Liberation Sans" font-size="5.0" fill="#111" stroke="#111" stroke-width="0.06" letter-spacing="0.6" font-weight="normal" transform="rotate(-90 136.0 92.6)">3.2</text>
<text x="154.2" y="103.2" font-family="Liberation Sans" font-size="5.2" fill="#111" stroke="#111" stroke-width="0.06" letter-spacing="0.8" font-weight="normal" transform="rotate(-90 154.2 103.2)">13</text>
<text x="296.4" y="239.6" font-family="Liberation Sans" font-size="5.0" fill="#111" stroke="#111" stroke-width="0.06" letter-spacing="0.7" font-weight="normal" transform="rotate(-90 296.4 239.6)">30</text>
<text x="317.1" y="206.4" font-family="Liberation Sans" font-size="9.0" fill="#111" stroke="#111" stroke-width="0.1" letter-spacing="2.4" font-weight="normal" transform="rotate(-90 317.1 206.4)">(202)</text>
<text x="245.0" y="182.8" font-family="Liberation Sans" font-size="5.3" fill="#111" stroke="#111" stroke-width="0.06" letter-spacing="0.1" font-weight="normal" transform="rotate(-74 245.0 182.8)">155°</text>
<g transform="matrix(-1.4103 0.8137 0.0014 1.6366 841.08 -216.07)"><path d="M182.7,88.7 L220.2,88.7 L220.2,107.1 L234.7,107.1 L234.7,94.9 A14.35,14.35 0 0 1 263.4,94.9 L263.4,129.4 L237.3,173.5 L237.3,205.9 A14.6,14.6 0 0 0 251.9,220.6 L265.3,220.6 A14.5,14.5 0 0 1 265.3,249.6 L251.9,249.6 A12.5,12.5 0 0 0 239.4,262.1 L239.4,287.4 L163.5,287.4 L163.5,194.6 A8.3,8.3 0 0 0 155.2,186.3 L87.2,186.3 L87.2,167.5 L169.7,167.5 A13,13 0 0 0 182.7,154.5 Z" fill="none" stroke="#3c3c3c" stroke-width="0.85" vector-effect="non-scaling-stroke"/><path d="M251.9,220.6 L251.9,249.6" fill="none" stroke="#3c3c3c" stroke-width="0.85" vector-effect="non-scaling-stroke"/><circle cx="248.9" cy="95.0" r="8.5" fill="none" stroke="#3c3c3c" stroke-width="0.85" vector-effect="non-scaling-stroke"/><circle cx="265.3" cy="235.1" r="8.6" fill="none" stroke="#3c3c3c" stroke-width="0.85" vector-effect="non-scaling-stroke"/><circle cx="184.4" cy="192.3" r="3.0" fill="none" stroke="#555" stroke-width="0.8" vector-effect="non-scaling-stroke"/><circle cx="198.5" cy="192.3" r="2.5" fill="none" stroke="#555" stroke-width="0.8" vector-effect="non-scaling-stroke"/><circle cx="213.0" cy="192.3" r="3.1" fill="none" stroke="#555" stroke-width="0.8" vector-effect="non-scaling-stroke"/><circle cx="182.4" cy="225.9" r="3.95" fill="none" stroke="#555" stroke-width="0.8" vector-effect="non-scaling-stroke"/><circle cx="182.4" cy="249.8" r="3.45" fill="none" stroke="#555" stroke-width="0.8" vector-effect="non-scaling-stroke"/><circle cx="182.4" cy="273.3" r="3.95" fill="none" stroke="#555" stroke-width="0.8" vector-effect="non-scaling-stroke"/><circle cx="220.1" cy="225.9" r="3.95" fill="none" stroke="#555" stroke-width="0.8" vector-effect="non-scaling-stroke"/><circle cx="220.1" cy="249.8" r="3.45" fill="none" stroke="#555" stroke-width="0.8" vector-effect="non-scaling-stroke"/><circle cx="220.1" cy="273.3" r="3.95" fill="none" stroke="#555" stroke-width="0.8" vector-effect="non-scaling-stroke"/></g>
<g transform="matrix(-1.4103 0.8137 0.0014 1.6366 814.1800000000001 -231.07)"><path d="M182.7,88.7 L220.2,88.7 L220.2,102.9" fill="none" stroke="#3c3c3c" stroke-width="0.85" vector-effect="non-scaling-stroke"/><path d="M238.75,84.85 A14.35,14.35 0 0 1 263.4,95.0 L263.4,129.4 L237.3,173.5 L237.3,205.9 A14.6,14.6 0 0 0 251.9,220.6 L265.3,220.6 A14.5,14.5 0 0 1 275.55,245.35" fill="none" stroke="#3c3c3c" stroke-width="0.85" vector-effect="non-scaling-stroke"/><path d="M87.2,167.5 L162.7,167.5" fill="none" stroke="#3c3c3c" stroke-width="0.85" vector-effect="non-scaling-stroke"/><path d="M239.4,269.6 L239.4,287.4" fill="none" stroke="#3c3c3c" stroke-width="0.85" vector-effect="non-scaling-stroke"/></g>
<line x1="583.5" y1="77.8" x2="556.6" y2="62.8" stroke="#3c3c3c" stroke-width="0.85" />
<line x1="530.7" y1="108.3" x2="503.8" y2="93.3" stroke="#3c3c3c" stroke-width="0.85" />
<line x1="530.7" y1="138.4" x2="510.8" y2="127.3" stroke="#3c3c3c" stroke-width="0.85" />
<line x1="504.5" y1="117.1" x2="477.6" y2="102.1" stroke="#3c3c3c" stroke-width="0.85" />
<line x1="469.8" y1="210.0" x2="442.9" y2="195.0" stroke="#3c3c3c" stroke-width="0.85" />
<line x1="506.7" y1="261.0" x2="479.8" y2="246.0" stroke="#3c3c3c" stroke-width="0.85" />
<line x1="452.8" y1="409.7" x2="425.9" y2="394.7" stroke="#3c3c3c" stroke-width="0.85" />
<line x1="718.3" y1="129.0" x2="691.4" y2="114.0" stroke="#3c3c3c" stroke-width="0.85" />
<line x1="503.9" y1="449.1" x2="477.0" y2="434.1" stroke="#3c3c3c" stroke-width="0.85" />
<line x1="506.7" y1="314.0" x2="479.8" y2="299.0" stroke="#a4a4a4" stroke-width="0.6" />
<line x1="486.1" y1="349.9" x2="459.2" y2="334.9" stroke="#a4a4a4" stroke-width="0.6" />
<line x1="467.2" y1="360.8" x2="440.3" y2="345.8" stroke="#a4a4a4" stroke-width="0.6" />
<line x1="469.7" y1="153.7" x2="442.8" y2="138.7" stroke="#a4a4a4" stroke-width="0.6" />
<line x1="602.0" y1="196.1" x2="585.8" y2="187.1" stroke="#a4a4a4" stroke-width="0.6" />
<line x1="503.8" y1="407.7" x2="483.6" y2="396.4" stroke="#a4a4a4" stroke-width="0.6" />
<g transform="matrix(-1.4103 0.8137 -1.4084 -0.7853 841.31 58.06)"><circle cx="115.6" cy="9.55" r="4.0" fill="none" stroke="#555" stroke-width="0.8" vector-effect="non-scaling-stroke"/><circle cx="130.3" cy="9.55" r="4.5" fill="none" stroke="#555" stroke-width="0.8" vector-effect="non-scaling-stroke"/><circle cx="144.3" cy="9.55" r="3.9" fill="none" stroke="#555" stroke-width="0.8" vector-effect="non-scaling-stroke"/></g>
<rect x="87.5" y="428.3" width="191.9" height="19.0" fill="none" stroke="#4a4a4a" stroke-width="0.9"/>
<line x1="182.4" y1="428.3" x2="182.4" y2="447.3" stroke="#555" stroke-width="0.75" />
<line x1="220.3" y1="428.3" x2="220.3" y2="447.3" stroke="#555" stroke-width="0.75" />
<line x1="234.4" y1="428.3" x2="234.4" y2="447.3" stroke="#555" stroke-width="0.75" />
<line x1="263.4" y1="428.3" x2="263.4" y2="447.3" stroke="#555" stroke-width="0.75" />
<line x1="265.3" y1="428.3" x2="265.3" y2="447.3" stroke="#555" stroke-width="0.75" />
<line x1="153.5" y1="428.3" x2="153.5" y2="447.3" stroke="#b0b0b0" stroke-width="0.55" />
<line x1="168.5" y1="428.3" x2="168.5" y2="447.3" stroke="#b0b0b0" stroke-width="0.55" />
<line x1="163.1" y1="429.1" x2="163.1" y2="446.5" stroke="#bdbdbd" stroke-width="0.5" stroke-dasharray="2.2 1.2"/>
<line x1="178.1" y1="429.1" x2="178.1" y2="446.5" stroke="#bdbdbd" stroke-width="0.5" stroke-dasharray="2.2 1.2"/>
<line x1="180.0" y1="429.1" x2="180.0" y2="446.5" stroke="#bdbdbd" stroke-width="0.5" stroke-dasharray="2.2 1.2"/>
<line x1="185.6" y1="429.1" x2="185.6" y2="446.5" stroke="#bdbdbd" stroke-width="0.5" stroke-dasharray="2.2 1.2"/>
<line x1="187.5" y1="429.1" x2="187.5" y2="446.5" stroke="#bdbdbd" stroke-width="0.5" stroke-dasharray="2.2 1.2"/>
<line x1="196.3" y1="429.1" x2="196.3" y2="446.5" stroke="#bdbdbd" stroke-width="0.5" stroke-dasharray="2.2 1.2"/>
<line x1="198.1" y1="429.1" x2="198.1" y2="446.5" stroke="#bdbdbd" stroke-width="0.5" stroke-dasharray="2.2 1.2"/>
<line x1="201.3" y1="429.1" x2="201.3" y2="446.5" stroke="#bdbdbd" stroke-width="0.5" stroke-dasharray="2.2 1.2"/>
<line x1="211.3" y1="429.1" x2="211.3" y2="446.5" stroke="#bdbdbd" stroke-width="0.5" stroke-dasharray="2.2 1.2"/>
<line x1="213.8" y1="429.1" x2="213.8" y2="446.5" stroke="#bdbdbd" stroke-width="0.5" stroke-dasharray="2.2 1.2"/>
<line x1="217.5" y1="429.1" x2="217.5" y2="446.5" stroke="#bdbdbd" stroke-width="0.5" stroke-dasharray="2.2 1.2"/>
<line x1="223.8" y1="429.1" x2="223.8" y2="446.5" stroke="#bdbdbd" stroke-width="0.5" stroke-dasharray="2.2 1.2"/>
<line x1="236.9" y1="429.1" x2="236.9" y2="446.5" stroke="#bdbdbd" stroke-width="0.5" stroke-dasharray="2.2 1.2"/>
<line x1="238.8" y1="429.1" x2="238.8" y2="446.5" stroke="#bdbdbd" stroke-width="0.5" stroke-dasharray="2.2 1.2"/>
<line x1="251.3" y1="429.1" x2="251.3" y2="446.5" stroke="#bdbdbd" stroke-width="0.5" stroke-dasharray="2.2 1.2"/>
<line x1="254.0" y1="429.1" x2="254.0" y2="446.5" stroke="#bdbdbd" stroke-width="0.5" stroke-dasharray="2.2 1.2"/>
<line x1="256.9" y1="429.1" x2="256.9" y2="446.5" stroke="#bdbdbd" stroke-width="0.5" stroke-dasharray="2.2 1.2"/>
<line x1="273.8" y1="429.1" x2="273.8" y2="446.5" stroke="#bdbdbd" stroke-width="0.5" stroke-dasharray="2.2 1.2"/>
<line x1="87.5" y1="452.1" x2="279.4" y2="452.1" stroke="#b8b8b8" stroke-width="0.5" stroke-dasharray="14 1.5 1 1.5"/>
<line x1="279.4" y1="452.1" x2="306.0" y2="452.1" stroke="#8a8a8a" stroke-width="0.55" />
<circle cx="115.6" cy="438.3" r="4.1" fill="none" stroke="#555" stroke-width="0.8"/>
<circle cx="130.3" cy="438.3" r="4.9" fill="none" stroke="#555" stroke-width="0.8"/>
<circle cx="144.3" cy="438.3" r="4.1" fill="none" stroke="#555" stroke-width="0.8"/>
<line x1="71.6" y1="438.3" x2="150.0" y2="438.3" stroke="#a8a8a8" stroke-width="0.5" />
<line x1="115.6" y1="432.0" x2="115.6" y2="444.5" stroke="#a8a8a8" stroke-width="0.5" />
<line x1="130.3" y1="432.0" x2="130.3" y2="444.5" stroke="#a8a8a8" stroke-width="0.5" />
<line x1="144.3" y1="432.0" x2="144.3" y2="444.5" stroke="#a8a8a8" stroke-width="0.5" />
<line x1="87.5" y1="412.1" x2="115.6" y2="412.1" stroke="#8a8a8a" stroke-width="0.55" />
<line x1="87.5" y1="410.0" x2="87.5" y2="428.0" stroke="#8a8a8a" stroke-width="0.55" />
<line x1="115.6" y1="410.0" x2="115.6" y2="434.0" stroke="#8a8a8a" stroke-width="0.55" />
<line x1="71.6" y1="428.3" x2="87.5" y2="428.3" stroke="#8a8a8a" stroke-width="0.55" />
<line x1="71.6" y1="447.3" x2="87.5" y2="447.3" stroke="#8a8a8a" stroke-width="0.55" />
<line x1="71.6" y1="421.0" x2="71.6" y2="447.3" stroke="#8a8a8a" stroke-width="0.55" />
<line x1="115.6" y1="443.0" x2="115.6" y2="475.0" stroke="#8a8a8a" stroke-width="0.55" />
<line x1="144.3" y1="443.0" x2="144.3" y2="475.0" stroke="#8a8a8a" stroke-width="0.55" />
<line x1="130.3" y1="444.0" x2="130.3" y2="465.0" stroke="#8a8a8a" stroke-width="0.55" />
<line x1="115.6" y1="473.4" x2="144.3" y2="473.4" stroke="#8a8a8a" stroke-width="0.55" />
<line x1="130.3" y1="463.1" x2="176.0" y2="463.1" stroke="#8a8a8a" stroke-width="0.55" />
<line x1="279.4" y1="428.3" x2="307.0" y2="428.3" stroke="#8a8a8a" stroke-width="0.55" />
<line x1="305.3" y1="394.0" x2="305.3" y2="452.1" stroke="#8a8a8a" stroke-width="0.55" />
<path d="M115.6,434.5 L136.3,396.0 L177.0,396.0" fill="none" stroke="#8a8a8a" stroke-width="0.55" />
<path d="M130.3,433.5 L140.6,408.4 L153.2,408.4" fill="none" stroke="#8a8a8a" stroke-width="0.55" />
<text x="88.4" y="410.5" font-family="Liberation Sans" font-size="7" fill="#111" stroke="#111" stroke-width="0.28" letter-spacing="1.55" font-weight="normal">30<tspan font-size="4.0" letter-spacing="1.35" stroke-width="0.1" dx="1.9" dy="-1.0">±0.5</tspan></text>
<text x="69.6" y="444.8" font-family="Liberation Sans" font-size="7" fill="#111" stroke="#111" stroke-width="0.28" letter-spacing="1.55" font-weight="normal" transform="rotate(-90 69.6 444.8)">10<tspan font-size="4.0" letter-spacing="1.35" stroke-width="0.1" dx="1.9" dy="-1.0">±0.1</tspan></text>
<text x="151.3" y="461.3" font-family="Liberation Sans" font-size="7" fill="#111" stroke="#111" stroke-width="0.28" letter-spacing="1.55" font-weight="normal">15<tspan font-size="4.0" letter-spacing="1.35" stroke-width="0.1" dx="1.9" dy="-1.0">±0.1</tspan></text>
<text x="81.9" y="471.4" font-family="Liberation Sans" font-size="7" fill="#111" stroke="#111" stroke-width="0.28" letter-spacing="1.55" font-weight="normal">30<tspan font-size="4.0" letter-spacing="1.35" stroke-width="0.1" dx="1.9" dy="-1.0">±0.02</tspan></text>
<text x="136.5" y="394.5" font-family="Liberation Sans" font-size="6.1" fill="#111" stroke="#111" stroke-width="0.15" letter-spacing="1.25" font-weight="normal"><tspan fill="#9a9a9a" stroke="#9a9a9a">Ø</tspan>8 H7(2x)</text>
<text x="143.8" y="406.6" font-family="Liberation Sans" font-size="6.1" fill="#111" stroke="#111" stroke-width="0.15" letter-spacing="0.8" font-weight="normal"><tspan fill="#9a9a9a" stroke="#9a9a9a">Ø</tspan>9</text>
<text x="303.0" y="419.8" font-family="Liberation Sans" font-size="9.0" fill="#111" stroke="#111" stroke-width="0.1" letter-spacing="2.3" font-weight="normal" transform="rotate(-90 303.0 419.8)">(25)</text>
</svg>
</body></html>
